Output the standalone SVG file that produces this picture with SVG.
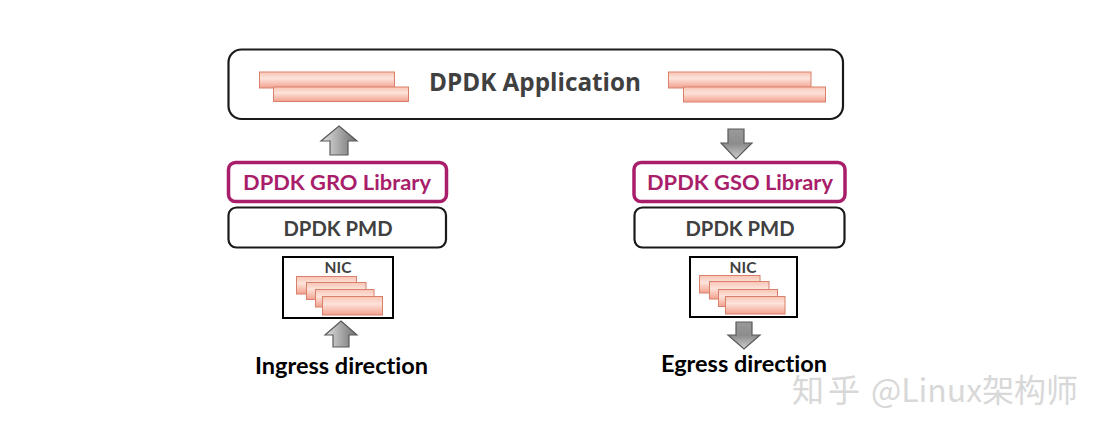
<svg xmlns="http://www.w3.org/2000/svg" width="1107" height="436" viewBox="0 0 1107 436">
<style>
.box{fill:#fff;stroke:#1a1a1a;stroke-width:2.2}
.lib{fill:#fff;stroke:#a91e6a;stroke-width:3.5}
.nic{fill:#fff;stroke:#000;stroke-width:2}
.card{fill:url(#cardFill);stroke:#d9806c;stroke-width:1}
.arrow{stroke:#5a5a5a;stroke-width:1.2}
text{text-anchor:middle;font-weight:700;font-variant-ligatures:none}
.t{font-family:"Open Sans","Liberation Sans",sans-serif;fill:#404040}
.g{font-family:"Lato","Liberation Sans",sans-serif}
.wm{font-family:"Noto Sans CJK SC","Noto Sans",sans-serif;font-weight:400;fill:#d8d8d8;text-anchor:start;font-size:32px}
</style>
<defs>
<linearGradient id="cardFill" x1="0" y1="0" x2="0" y2="1">
<stop offset="0" stop-color="#f8c4b4"/><stop offset="0.4" stop-color="#fde3da"/><stop offset="1" stop-color="#f3a18f"/>
</linearGradient>
<linearGradient id="arrowUp" x1="0" y1="0" x2="1" y2="0">
<stop offset="0" stop-color="#e2e2e2"/><stop offset="1" stop-color="#6e6e6e"/>
</linearGradient>
<linearGradient id="arrowDown" x1="0" y1="0" x2="0" y2="1">
<stop offset="0" stop-color="#9a9a9a"/><stop offset="0.5" stop-color="#8c8c8c"/><stop offset="1" stop-color="#d0d0d0"/>
</linearGradient>
</defs>
<rect width="1107" height="436" fill="#fff"/>

<g id="connectors">
<polygon class="arrow" fill="url(#arrowUp)" points="339,126 357,141 348,141 348,155 330,155 330,141 321,141"/>
<polygon class="arrow" fill="url(#arrowDown)" points="728,129 744,129 744,143 752,143 736,159 721,143 728,143"/>
<polygon class="arrow" fill="url(#arrowUp)" points="341,321 357,335 349,335 349,347 333,347 333,335 325,335"/>
<polygon class="arrow" fill="url(#arrowDown)" points="736,322 752,322 752,335 760,335 744,349 728,335 736,335"/>
</g>

<g id="app">
<rect class="box" x="228.500" y="49.500" width="614.500" height="69.500" rx="13"/>
<rect class="card" x="259.500" y="72" width="135" height="16"/>
<rect class="card" x="273.500" y="87" width="135" height="14.500"/>
<rect class="card" x="668.500" y="72" width="142.500" height="16"/>
<rect class="card" x="683.500" y="87" width="142" height="15"/>
<text class="t" x="535" y="91" font-size="25" textLength="212" lengthAdjust="spacingAndGlyphs">DPDK Application</text>
</g>

<g id="gro">
<rect class="lib" x="228.500" y="162.500" width="218" height="39" rx="7"/>
<text class="g" x="337" y="190" font-size="21.500" fill="#a91e6a" textLength="188" lengthAdjust="spacingAndGlyphs">DPDK GRO Library</text>
</g>
<g id="pmd-left">
<rect class="box" x="228.500" y="207.500" width="217.500" height="40" rx="8"/>
<text class="g" x="338" y="236" font-size="21.500" fill="#404040" textLength="109" lengthAdjust="spacingAndGlyphs">DPDK PMD</text>
</g>
<g id="nic-left">
<rect class="nic" x="283" y="257" width="110" height="61"/>
<text class="g" x="338" y="273" font-size="15.500" fill="#404040">NIC</text>
<rect class="card" x="296.500" y="276.500" width="60" height="17.500"/>
<rect class="card" x="306.500" y="282.500" width="59.500" height="17"/>
<rect class="card" x="315.500" y="289.500" width="58.500" height="17.500"/>
<rect class="card" x="322.500" y="296.500" width="60" height="18.500"/>
</g>
<g id="ingress"><text class="g" x="341.500" y="374" font-size="22" fill="#000" textLength="173" lengthAdjust="spacingAndGlyphs">Ingress direction</text></g>

<g id="gso">
<rect class="lib" x="634" y="162.500" width="211" height="39" rx="7"/>
<text class="g" x="740" y="189.500" font-size="21.500" fill="#a91e6a" textLength="186" lengthAdjust="spacingAndGlyphs">DPDK GSO Library</text>
</g>
<g id="pmd-right">
<rect class="box" x="634.500" y="207.500" width="210" height="40" rx="8"/>
<text class="g" x="740" y="236" font-size="21.500" fill="#404040" textLength="109" lengthAdjust="spacingAndGlyphs">DPDK PMD</text>
</g>
<g id="nic-right">
<rect class="nic" x="690" y="257" width="107" height="60"/>
<text class="g" x="743" y="273" font-size="15.500" fill="#404040">NIC</text>
<rect class="card" x="699.500" y="275.500" width="60.500" height="17.500"/>
<rect class="card" x="709.500" y="281.500" width="59.500" height="17.500"/>
<rect class="card" x="718.500" y="289.500" width="59" height="17"/>
<rect class="card" x="725.500" y="296.500" width="59.500" height="17.500"/>
</g>
<g id="egress"><text class="g" x="744" y="372" font-size="22" fill="#000" textLength="166" lengthAdjust="spacingAndGlyphs">Egress direction</text></g>

<g id="watermark">
<text class="wm" x="792" y="402" textLength="68">知乎</text>
<text class="wm" x="871" y="402" textLength="207">@Linux架构师</text>
</g>
</svg>
